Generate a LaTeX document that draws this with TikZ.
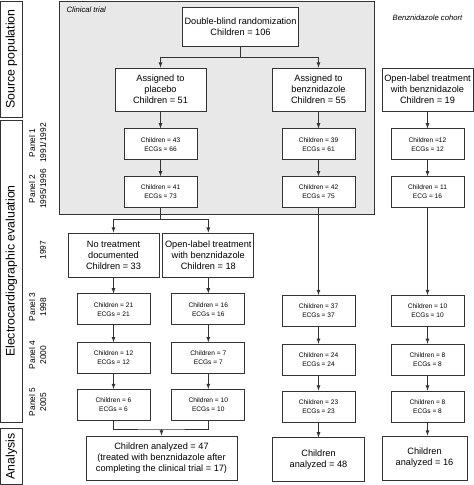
\documentclass[tikz,border=0pt]{standalone}
\usepackage{fontspec}
\setmainfont{Liberation Sans}
\usetikzlibrary{positioning}

\begin{document}
\begin{tikzpicture}[
	x=1pt, y=1pt,
	nodes = {
		align = center
	},
	lines/.style={
		line width=0.8pt,
		draw=black!80,
		>=latex
	},
	big/.style={
		rectangle,
		draw=black!80,
		line width=0.8pt,
		fill=white,
		inner sep=0.5pt,
		minimum height=43pt,
		minimum width=91pt,
		font=\fontsize{9.2}{11}\selectfont
	},
	small/.style={
		rectangle,
		draw=black!80,
		line width=0.8pt,
		fill=white,
		minimum height=31pt,
		minimum width=73pt,
		font=\fontsize{6.6}{9}\selectfont
	},
	strip/.style={
		rectangle,
		draw=black!80,
		line width=0.8pt,
		rotate=90,
		minimum height=22pt,
		font=\fontsize{12.3}{14}\selectfont
	},
	panel/.style={
		rotate=90,
		font=\fontsize{8.4}{11}\selectfont
	},
	arm/.style={
		font=\fontsize{7.7}{9}\selectfont\itshape
	}
]
	\useasboundingbox (0,0) rectangle (474,-485);

	\node[draw=black!80, line width=0.8pt, fill=black!9, inner sep=0pt,
		minimum width=315pt, minimum height=213pt] (trial) at (216.5,-107.5) {};
	\node[arm, anchor=north west] (trialname) at (63,-3) {Clinical trial};
	\node[arm] (cohortname) at (427.5,-18) {Benznidazole cohort};

	%% left strip
	\node[strip, minimum width=116pt] (source) at (11.5,-59) {Source population};
	\node[strip, minimum width=302pt] (ecg) at (11.5,-271) {Electrocardiographic evaluation};
	\node[strip, minimum width=56pt] (analysis) at (11.5,-456.5) {Analysis};

	\node[panel] (lab1) at (37.5,-143) {Panel 1\\1991/1992};
	\node[panel] (lab2) at (37.5,-189) {Panel 2\\1995/1996};
	\node[panel] (lab97) at (43,-250) {1997};
	\node[panel] (lab3) at (37.5,-307) {Panel 3\\1998};
	\node[panel] (lab4) at (37.5,-355) {Panel 4\\2000};
	\node[panel] (lab5) at (37.5,-402) {Panel 5\\2005};

	%% source population
	\node[big, minimum width=116pt, minimum height=39pt] (rand) at (240.5,-26.5) {
		Double-blind randomization\\
		Children = 106
	};

	\node[big] (placebo) at (160.5,-89.5) {
		Assigned to\\
		placebo\\
		Children = 51
	};

	\node[big, minimum width=93pt] (benz) at (318.5,-89.5) {
		Assigned to\\
		benznidazole\\
		Children = 55
	};

	\node[big] (cohort) at (427.5,-89.5) {
		Open-label treatment\\
		with benznidazole\\
		Children = 19
	};

	%% panels 1 and 2
	\node[small] (pl1) [below=17pt of placebo] {Children = 43\\ECGs = 66};
	\node[small] (pl2) [below=16pt of pl1] {Children = 41\\ECGs = 73};
	\node[small] (bz1) [below=17pt of benz] {Children = 39\\ECGs = 61};
	\node[small] (bz2) [below=16pt of bz1] {Children = 42\\ECGs = 75};
	\node[small] (co1) [below=17pt of cohort] {Children =12\\ECGs = 12};
	\node[small] (co2) [below=16pt of co1] {Children = 11\\ECG = 16};

	%% 1997
	\node[big, minimum height=44pt] (notreat) at (113.5,-255) {
		No treatment\\
		documented\\
		Children = 33
	};

	\node[big, minimum height=44pt] (openlabel) [right=3pt of notreat] {
		Open-label treatment\\
		with benznidazole\\
		Children = 18
	};

	%% panels 3 to 5
	\node[small] (nt3) [below=16pt of notreat] {Children = 21\\ECGs = 21};
	\node[small] (nt4) [below=17pt of nt3] {Children = 12\\ECGs = 12};
	\node[small] (nt5) [below=15pt of nt4] {Children = 6\\ECGs = 6};

	\node[small] (ol3) [below=16pt of openlabel] {Children = 16\\ECGs = 16};
	\node[small] (ol4) [below=17pt of ol3] {Children = 7\\ECGs = 7};
	\node[small] (ol5) [below=15pt of ol4] {Children = 10\\ECGs = 10};

	\node[small] (bz3) [below=87pt of bz2] {Children = 37\\ECGs = 37};
	\node[small] (bz4) [below=17pt of bz3] {Children = 24\\ECGs = 24};
	\node[small] (bz5) [below=15pt of bz4] {Children = 23\\ECGs = 23};

	\node[small] (co3) [below=87pt of co2] {Children = 10\\ECGs = 10};
	\node[small] (co4) [below=17pt of co3] {Children = 8\\ECGs = 8};
	\node[small] (co5) [below=15pt of co4] {Children = 8\\ECGs = 8};

	%% analysis
	\node[big, minimum width=151pt, minimum height=44pt] (an1) at (161.5,-458) {
		Children analyzed = 47\\
		(treated with benznidazole after\\
		completing the clinical trial = 17)
	};

	\node[big, minimum width=92pt, minimum height=44pt] (an2) [below=15pt of bz5] {
		Children\\
		analyzed = 48
	};

	\node[big, minimum width=85pt, minimum height=44pt] (an3) at (424.5,-458) {
		Children\\
		analyzed = 16
	};

	\coordinate (split) at (240.5,-57);
	\coordinate (split97) at (160.5,-219);
	\coordinate (merge) at (161.5,-429);

	\draw[lines] (rand) -- (split);
	\draw[lines,->] (split) -| (placebo);
	\draw[lines,->] (split) -| (benz);

	\draw[lines,->] (placebo) -- (pl1);
	\draw[lines,->] (pl1) -- (pl2);
	\draw[lines] (pl2) -- (split97);
	\draw[lines,->] (split97) -| (notreat);
	\draw[lines,->] (split97) -| (openlabel);

	\draw[lines,->] (notreat) -- (nt3);
	\draw[lines,->] (nt3) -- (nt4);
	\draw[lines,->] (nt4) -- (nt5);
	\draw[lines,->] (openlabel) -- (ol3);
	\draw[lines,->] (ol3) -- (ol4);
	\draw[lines,->] (ol4) -- (ol5);
	\draw[lines] (nt5) |- (merge) -| (ol5);
	\draw[lines,->] (merge) -- (an1);

	\draw[lines,->] (benz) -- (bz1);
	\draw[lines,->] (bz1) -- (bz2);
	\draw[lines,->] (bz2) -- (bz3);
	\draw[lines,->] (bz3) -- (bz4);
	\draw[lines,->] (bz4) -- (bz5);
	\draw[lines,->] (bz5) -- (an2);

	\draw[lines,->] (cohort) -- (co1);
	\draw[lines,->] (co1) -- (co2);
	\draw[lines,->] (co2) -- (co3);
	\draw[lines,->] (co3) -- (co4);
	\draw[lines,->] (co4) -- (co5);
	\draw[lines,->] (co5) -- (co5 |- an3.north);
\end{tikzpicture}
\end{document}
